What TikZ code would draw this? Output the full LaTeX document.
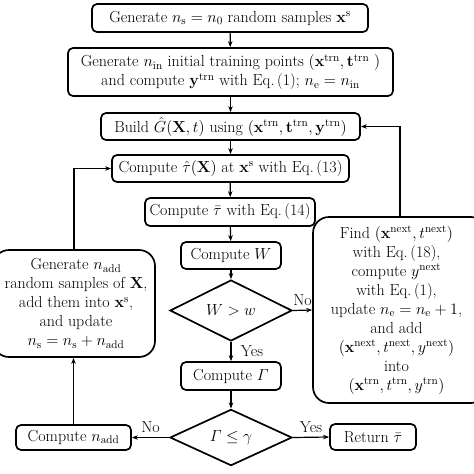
\RequirePackage{fix-cm}
\documentclass[tikz,border=0pt]{standalone}
\usepackage{amsmath}
\usepackage[no-math]{fontspec}
\usetikzlibrary{shapes.geometric,arrows.meta}
\newcommand\fs{\fontsize{16}{19}\selectfont}
\newcommand\up[1]{\mathrm{#1}}
\tikzset{
 box/.style={draw, line width=1.7pt, rounded corners=5pt, align=center, inner sep=0pt, font=\fs},
 bigbox/.style={box, rounded corners=16pt},
 dia/.style={draw, diamond, line width=1.7pt, inner sep=0pt, font=\fs},
 arr/.style={-{Stealth[length=6pt,width=4.5pt]}, line width=1.2pt},
 lab/.style={font=\fs}
}
\begin{document}
\begin{tikzpicture}[x=1pt,y=-1pt]
\useasboundingbox (0,0) rectangle (474,474);
\clip (0,0) rectangle (474,474);
\node[box, minimum width=276pt, minimum height=28pt] (b1) at (230,18) {Generate $n_{\up{s}}=n_0$ random samples $\mathbf{x}^{\up{s}}$};
\node[box, minimum width=325pt, minimum height=48pt] (b2) at (230.5,72) {Generate $n_{\up{in}}$ initial training points $(\mathbf{x}^{\up{trn}},\mathbf{t}^{\up{trn}}\ )$\\ and compute $\mathbf{y}^{\up{trn}}$ with Eq.\,(1);\ $n_{\up{e}}=n_{\up{in}}$};
\node[box, minimum width=259pt, minimum height=27pt] (b3) at (230.5,126.5) {Build $\hat{G}(\mathbf{X},t)$ using $(\mathbf{x}^{\up{trn}},\mathbf{t}^{\up{trn}},\mathbf{y}^{\up{trn}})$};
\node[box, minimum width=237pt, minimum height=27pt] (b4) at (230.5,168.5) {Compute $\hat{\tau}(\mathbf{X})$ at $\mathbf{x}^{\up{s}}$ with Eq.\,(13)};
\node[box, minimum width=170pt, minimum height=28pt] (b5) at (230,212) {Compute $\bar{\tau}$ with Eq.\,(14)};
\node[box, minimum width=100pt, minimum height=27pt] (b6) at (231,255.5) {Compute $W$};
\node[dia, minimum width=122pt, minimum height=49pt] (d1) at (231,310.5) {$W>w$};
\node[box, minimum width=100pt, minimum height=28pt] (b7) at (231,376) {Compute $\varGamma$};
\node[dia, minimum width=122pt, minimum height=51pt] (d2) at (231,437.5) {$\varGamma\le\gamma$};
\node[box, minimum width=115pt, minimum height=25pt] (nadd) at (73.5,437.5) {Compute $n_{\up{add}}$};
\node[box, minimum width=86pt, minimum height=26pt] (ret) at (373,437) {Return $\bar{\tau}$};
\node[bigbox, minimum width=162pt, minimum height=107pt] (left) at (74,303.5) {};
\node[lab, align=center] (ltext) at (76,303.5) {Generate $n_{\up{add}}$\\ random samples of $\mathbf{X}$,\\ add them into $\mathbf{x}^{\up{s}}$,\\ and update\\ $n_{\up{s}}=n_{\up{s}}+n_{\up{add}}$};
\node[bigbox, minimum width=174pt, minimum height=186pt] (right) at (400,310) {};
\node[lab, align=center] (rtext) at (396.5,310) {Find $(\mathbf{x}^{\up{next}},t^{\up{next}})$\\ with Eq.\,(18),\\ compute $y^{\up{next}}$\\ with Eq.\,(1),\\ update $n_{\up{e}}=n_{\up{e}}+1$,\\ and add\\ $(\mathbf{x}^{\up{next}},t^{\up{next}},y^{\up{next}})$\\ into\\ $(\mathbf{x}^{\up{trn}},t^{\up{trn}},y^{\up{trn}})$};
\draw[arr] (b1) -- (b2);
\draw[arr] (b2) -- (b3);
\draw[arr] (b3) -- (b4);
\draw[arr] (b4) -- (b5);
\draw[arr] (b5) -- (b6);
\draw[arr] (b6) -- (d1);
\draw[arr] (d1) -- node[lab, right, xshift=6pt] {Yes} (b7);
\draw[arr] (b7) -- (d2);
\draw[arr] (d2.west) -- node[lab, above, yshift=1pt] {No} (nadd.east);
\draw[arr] (d2.east) -- node[lab, above, yshift=1pt] {Yes} (ret.west);
\draw[arr] (d1.east) -- node[lab, above, yshift=1pt] {No} (right.west);
\draw[arr] (right.north) |- (b3.east);
\draw[arr] (left.north) |- (b4.west);
\draw[arr] (nadd.north) -- (nadd.north |- left.south);
\end{tikzpicture}
\end{document}
